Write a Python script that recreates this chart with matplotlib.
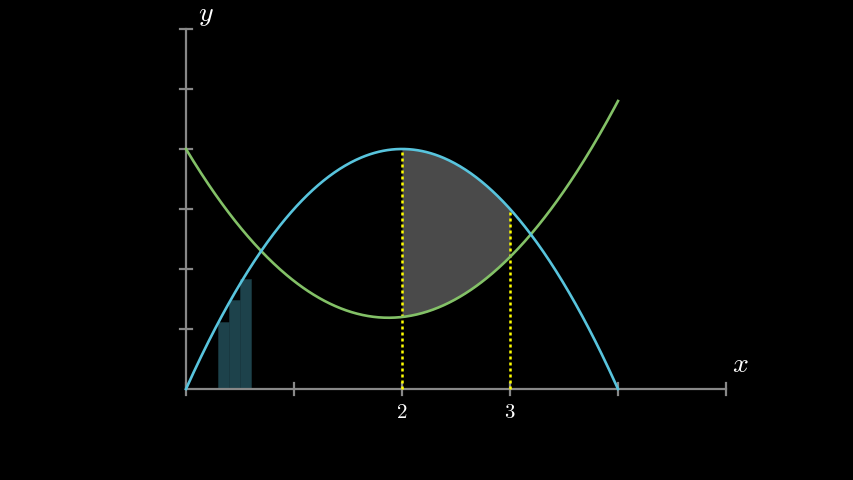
import matplotlib
matplotlib.use("Agg")
import matplotlib.pyplot as plt
import numpy as np

plt.rcParams['mathtext.fontset'] = 'cm'

# polynomial coefficients (highest power first)
BLUE_COEF = [-1.0, 4.0, 0.0]      # peak (2, 4), roots 0 and 4
GREEN_COEF = [0.8, -3.0, 4.0]     # starts at 4, dips to ~1.2 near x=2
CURVE_RANGE = (0, 4)

# thin rectangles near the left
BAR_LEFT = [0.3, 0.4, 0.5]
BAR_HEIGHT = [1.12, 1.48, 1.83]
BAR_WIDTH = 0.1

# shaded area between the curves
AREA_RANGE = (2, 3)
LABELED_TICKS = [2, 3]

X_MAX = 5
Y_MAX = 6

BLUE = '#58C4DD'
GREEN = '#83C167'
YELLOW = '#FFFF00'
AXIS_GREY = '#888888'


def main():
    fig = plt.figure(figsize=(8.54, 4.8), dpi=100, facecolor='black')
    ax = fig.add_axes([0, 0, 1, 1])
    ax.set_facecolor('black')
    ax.set_xlim(-186 / 108, (854 - 186) / 108)
    ax.set_ylim(-91 / 60, 389 / 60)
    ax.axis('off')

    # axes
    ax.plot([0, X_MAX], [0, 0], color=AXIS_GREY, lw=1.6, zorder=2)
    ax.plot([0, 0], [0, Y_MAX], color=AXIS_GREY, lw=1.6, zorder=2)
    tx = 6 / 108
    ty = 6 / 60
    for k in range(1, X_MAX + 1):
        ax.plot([k, k], [-ty, ty], color=AXIS_GREY, lw=1.6, zorder=2)
    ax.plot([0, 0], [-ty, ty], color=AXIS_GREY, lw=1.6, zorder=2)
    for k in range(1, Y_MAX + 1):
        ax.plot([-tx, tx], [k, k], color=AXIS_GREY, lw=1.6, zorder=2)

    for k in LABELED_TICKS:
        ax.text(k, -0.38, '$%d$' % k, color='white', fontsize=15,
                ha='center', va='center')
    ax.text(5.13, 0.42, '$x$', color='white', fontsize=20, ha='center', va='center')
    ax.text(0.18, 6.25, '$y$', color='white', fontsize=20, ha='center', va='center')

    xs = np.linspace(CURVE_RANGE[0], CURVE_RANGE[1], 400)
    blue = np.polyval(BLUE_COEF, xs)
    green = np.polyval(GREEN_COEF, xs)

    # rectangles
    ax.bar(BAR_LEFT, BAR_HEIGHT, width=BAR_WIDTH, align='edge',
           color='#1d424b', edgecolor='#1a3b43', lw=0.4, zorder=1)

    # shaded area
    xa = np.linspace(AREA_RANGE[0], AREA_RANGE[1], 200)
    ax.fill_between(xa, np.polyval(GREEN_COEF, xa), np.polyval(BLUE_COEF, xa),
                    color='#4a4a4a', lw=0, zorder=1)

    # dotted verticals
    for k in AREA_RANGE:
        ax.plot([k, k], [0, np.polyval(BLUE_COEF, k)], color=YELLOW, lw=1.8,
                linestyle=(0, (1.2, 1.2)), zorder=3)

    ax.plot(xs, green, color=GREEN, lw=1.9, zorder=4)
    ax.plot(xs, blue, color=BLUE, lw=1.9, zorder=4)

    fig.savefig('out.png', dpi=100, facecolor='black')


if __name__ == '__main__':
    main()
